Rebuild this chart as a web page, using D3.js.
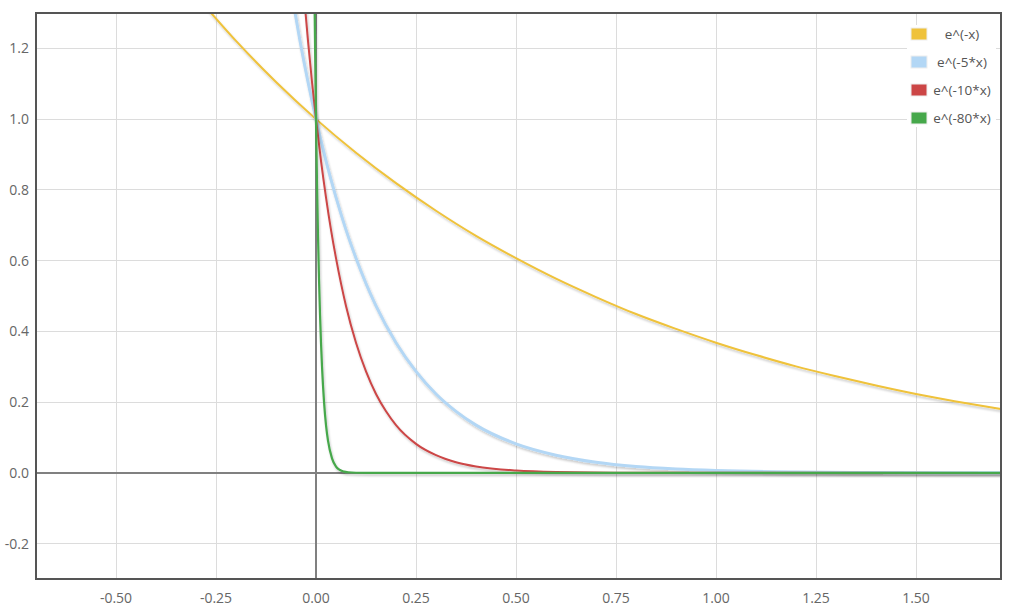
<!DOCTYPE html>
<html>
<head>
<meta charset="utf-8">
<script src="https://cdn.jsdelivr.net/npm/d3@7"></script>
<style>
  body { margin: 0; background: #fff; }
  text { font-family: "Open Sans", "DejaVu Sans", sans-serif; }
</style>
</head>
<body>
<svg id="chart" width="1019" height="612"></svg>
<script>
// tick values
var xTickValues = [-0.5, -0.25, 0, 0.25, 0.5, 0.75, 1.0, 1.25, 1.5];
var yTickValues = [-0.2, 0, 0.2, 0.4, 0.6, 0.8, 1.0, 1.2];

var seriesNames = ["e^(-x)", "e^(-5*x)", "e^(-10*x)", "e^(-80*x)"];

// points, [x, y]
var seriesX1 = [[-0.28,1.323],[-0.2,1.221],[-0.1,1.105],[0,1],[0.1,0.905],[0.2,0.819],[0.3,0.741],
  [0.4,0.670],[0.5,0.607],[0.6,0.549],[0.7,0.497],[0.8,0.449],[0.9,0.407],[1.0,0.368],[1.1,0.333],
  [1.2,0.301],[1.3,0.273],[1.4,0.247],[1.5,0.223],[1.6,0.202],[1.72,0.179]];
var seriesX5 = [[-0.06,1.35],[-0.04,1.221],[-0.02,1.105],[0,1],[0.025,0.882],[0.05,0.779],[0.075,0.687],
  [0.1,0.607],[0.15,0.472],[0.2,0.368],[0.25,0.287],[0.3,0.223],[0.35,0.174],[0.4,0.135],[0.5,0.082],
  [0.6,0.050],[0.7,0.030],[0.8,0.018],[0.9,0.011],[1.0,0.0067],[1.2,0.0025],[1.4,0.0009],[1.72,0.0002]];
var seriesX10 = [[-0.03,1.35],[-0.02,1.221],[-0.01,1.105],[0,1],[0.0125,0.882],[0.025,0.779],[0.0375,0.687],
  [0.05,0.607],[0.075,0.472],[0.1,0.368],[0.125,0.287],[0.15,0.223],[0.175,0.174],[0.2,0.135],[0.25,0.082],
  [0.3,0.050],[0.35,0.030],[0.4,0.018],[0.5,0.0067],[0.6,0.0025],[0.8,0.0003],[1.0,0.00005],[1.72,0]];
var seriesX80 = [[-0.004,1.377],[-0.002,1.174],[0,1],[0.0025,0.819],[0.005,0.670],[0.0075,0.549],
  [0.01,0.449],[0.0125,0.368],[0.015,0.301],[0.02,0.202],[0.025,0.135],[0.03,0.091],[0.04,0.041],
  [0.05,0.018],[0.06,0.008],[0.07,0.0037],[0.08,0.0017],[0.1,0.0003],[0.15,0],[1.72,0]];

var seriesColors = ["#efc23b", "#b3d7f5", "#cc4646", "#46a84b"];
var seriesWidths = [2, 3, 2, 2.2];
var seriesData = [seriesX1, seriesX5, seriesX10, seriesX80];

var svg = d3.select("#chart");
var plotL = 36, plotR = 1001, plotT = 13, plotB = 579;

var x = d3.scaleLinear().domain([-0.7, 1.7125]).range([plotL, plotR]);
var y = d3.scaleLinear().domain([-0.3, 1.3]).range([plotB, plotT]);

var defs = svg.append("defs");
defs.append("clipPath").attr("id", "plotclip")
  .append("rect").attr("x", plotL).attr("y", plotT)
  .attr("width", plotR - plotL).attr("height", plotB - plotT);
var f = defs.append("filter").attr("id", "shadow")
  .attr("x", "-10%").attr("y", "-10%").attr("width", "120%").attr("height", "120%");
f.append("feDropShadow").attr("dx", 1).attr("dy", 2).attr("stdDeviation", 1)
  .attr("flood-color", "#000").attr("flood-opacity", 0.22);

// grid
var grid = svg.append("g");
grid.selectAll(".vg").data(xTickValues).enter().append("line")
  .attr("x1", function(d){ return x(d); }).attr("x2", function(d){ return x(d); })
  .attr("y1", plotT).attr("y2", plotB)
  .attr("stroke", "#dcdcdc").attr("stroke-width", 1).attr("shape-rendering", "crispEdges");
grid.selectAll(".hg").data(yTickValues).enter().append("line")
  .attr("y1", function(d){ return y(d); }).attr("y2", function(d){ return y(d); })
  .attr("x1", plotL).attr("x2", plotR)
  .attr("stroke", "#dcdcdc").attr("stroke-width", 1).attr("shape-rendering", "crispEdges");

// zero axes
svg.append("line").attr("x1", plotL).attr("x2", plotR)
  .attr("y1", y(0)).attr("y2", y(0))
  .attr("stroke", "#808080").attr("stroke-width", 2);
svg.append("line").attr("x1", x(0)).attr("x2", x(0))
  .attr("y1", plotT).attr("y2", plotB)
  .attr("stroke", "#808080").attr("stroke-width", 2);

// curves
var line = d3.line()
  .x(function(d){ return x(d[0]); })
  .y(function(d){ return y(d[1]); })
  .curve(d3.curveMonotoneX);

var curves = svg.append("g").attr("clip-path", "url(#plotclip)");
seriesData.forEach(function(s, i){
  curves.append("path")
    .attr("d", line(s))
    .attr("fill", "none")
    .attr("stroke", seriesColors[i])
    .attr("stroke-width", seriesWidths[i])
    .attr("filter", "url(#shadow)");
});

// frame
svg.append("rect").attr("x", plotL).attr("y", plotT)
  .attr("width", plotR - plotL).attr("height", plotB - plotT)
  .attr("fill", "none").attr("stroke", "#555").attr("stroke-width", 2);

// tick labels
svg.selectAll(".xl").data(xTickValues).enter().append("text")
  .attr("x", function(d){ return x(d); }).attr("y", 603)
  .attr("text-anchor", "middle").attr("font-size", 14).attr("fill", "#666")
  .text(function(d){ return d.toFixed(2); });
svg.selectAll(".yl").data(yTickValues).enter().append("text")
  .attr("x", 29).attr("y", function(d){ return y(d) + 5; })
  .attr("text-anchor", "end").attr("font-size", 14).attr("fill", "#666")
  .text(function(d){ return d.toFixed(1); });

// legend
var lg = svg.append("g");
lg.append("rect").attr("x", 907).attr("y", 25).attr("width", 89).attr("height", 102)
  .attr("fill", "#fff");
var item = lg.selectAll(".li").data(seriesNames).enter().append("g")
  .attr("transform", function(d, i){ return "translate(0," + (34 + i * 28) + ")"; });
item.append("rect").attr("x", 911).attr("y", -6).attr("width", 16).attr("height", 12)
  .attr("fill", function(d, i){ return seriesColors[i]; })
  .attr("stroke", "#eee").attr("stroke-width", 1);
item.append("text").attr("x", 962).attr("y", 5)
  .attr("text-anchor", "middle").attr("font-size", 13.5).attr("fill", "#555")
  .text(function(d){ return d; });
</script>
</body>
</html>
